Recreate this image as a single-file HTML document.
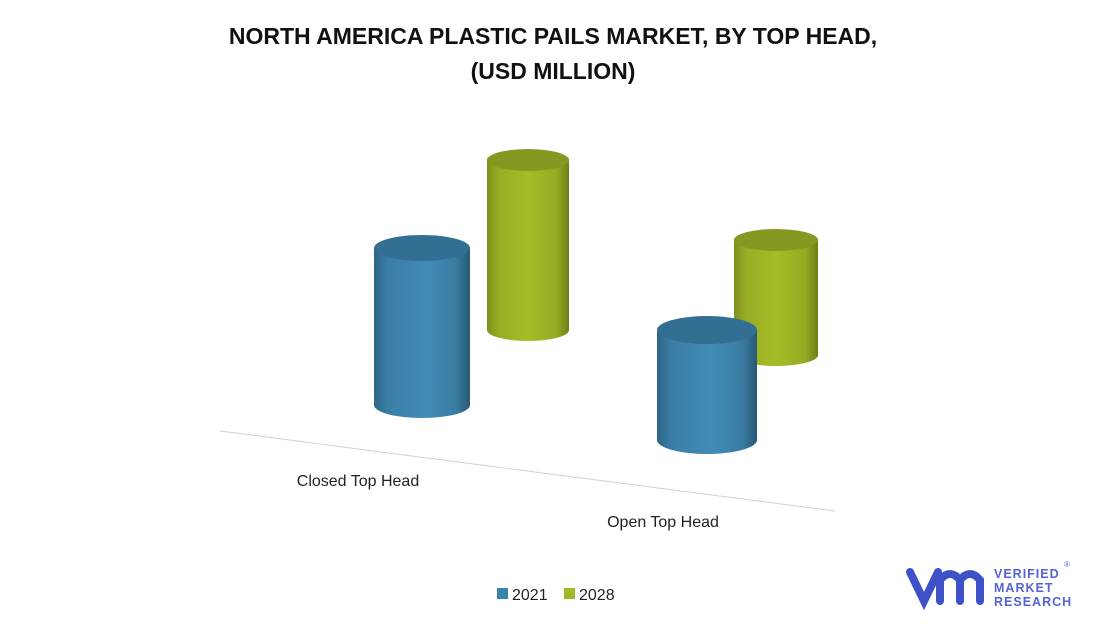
<!DOCTYPE html>
<html><head><meta charset="utf-8"><style>
body{margin:0;background:#fff;width:1106px;height:625px;overflow:hidden;font-family:"Liberation Sans",sans-serif}
</style></head><body>
<svg width="1106" height="625" viewBox="0 0 1106 625">
<defs>
<linearGradient id="gb" x1="0" x2="1"><stop offset="0" stop-color="#2e6688"/><stop offset="0.15" stop-color="#3a7ea6"/><stop offset="0.55" stop-color="#418cb6"/><stop offset="0.85" stop-color="#3a7da3"/><stop offset="1" stop-color="#285873"/></linearGradient>
<linearGradient id="gg" x1="0" x2="1"><stop offset="0" stop-color="#7f8f1c"/><stop offset="0.15" stop-color="#98ad24"/><stop offset="0.5" stop-color="#a7bc28"/><stop offset="0.85" stop-color="#96aa22"/><stop offset="1" stop-color="#6f7d16"/></linearGradient>
</defs>
<text x="553" y="44" text-anchor="middle" font-size="23" font-weight="bold" fill="#111">NORTH AMERICA PLASTIC PAILS MARKET, BY TOP HEAD,</text>
<text x="553" y="79" text-anchor="middle" font-size="23" font-weight="bold" fill="#111">(USD MILLION)</text>
<line x1="220" y1="431" x2="835" y2="511" stroke="#d0d0d0" stroke-width="1"/>
<text x="358" y="486" text-anchor="middle" font-size="16" fill="#222">Closed Top Head</text>
<text x="663" y="527" text-anchor="middle" font-size="16" fill="#222">Open Top Head</text>
<g id="bars"></g>
<rect x="497" y="588" width="11" height="11" fill="#3b83ad"/>
<text x="512" y="600" font-size="16" fill="#222">2021</text>
<rect x="564" y="588" width="11" height="11" fill="#a2b826"/>
<text x="579" y="600" font-size="16" fill="#222">2028</text>
<g>
<path d="M910 572 L924 601 L938 572 M940 601 L940 580 Q950 568 960 580 L960 601 M960 580 Q970 568 980 580 L980 601" fill="none" stroke="#3f51c9" stroke-width="8" stroke-linecap="round"/>
<text x="994" y="578" font-size="12.5" font-weight="bold" fill="#5463d6" letter-spacing="1">VERIFIED</text>
<text x="994" y="592" font-size="12.5" font-weight="bold" fill="#5463d6" letter-spacing="1">MARKET</text>
<text x="994" y="606" font-size="12.5" font-weight="bold" fill="#5463d6" letter-spacing="1">RESEARCH</text>
<text x="1064" y="567" font-size="8" fill="#5463d6">®</text>
</g>
</svg>
<script>
const categories=["Closed Top Head","Open Top Head"];
const series=["2021","2028"];
const values2021=[157,110];
const values2028=[170,115];
const scale=1;
// geometry (layout only): base center x, base y, radii
const geo=[[{cx:422,by:405,rx:48,ry:13},{cx:528,by:330,rx:41,ry:11}],[{cx:707,by:440,rx:50,ry:14},{cx:776,by:355,rx:42,ry:11}]];
const g=document.getElementById('bars');
const NS='http://www.w3.org/2000/svg';
const order=[[0,1],[0,0],[1,1],[1,0]];
order.forEach(([c,s])=>{
 const v=(s===0?values2021:values2028)[c];
 const p=geo[c][s];
 const ty=p.by-v*scale;
 const grp=document.createElementNS(NS,'g');
 
 
 const body=document.createElementNS(NS,'path');
 body.setAttribute('d',`M${p.cx-p.rx} ${ty} L${p.cx-p.rx} ${p.by} A${p.rx} ${p.ry} 0 0 0 ${p.cx+p.rx} ${p.by} L${p.cx+p.rx} ${ty} Z`);
 body.setAttribute('fill',s===0?'url(#gb)':'url(#gg)');
 grp.appendChild(body);
 const top=document.createElementNS(NS,'ellipse');
 top.setAttribute('cx',p.cx);top.setAttribute('cy',ty);top.setAttribute('rx',p.rx);top.setAttribute('ry',p.ry);
 top.setAttribute('fill',s===0?'#336f92':'#879822');
 grp.appendChild(top);
 g.appendChild(grp);
});
</script>
</body></html>
